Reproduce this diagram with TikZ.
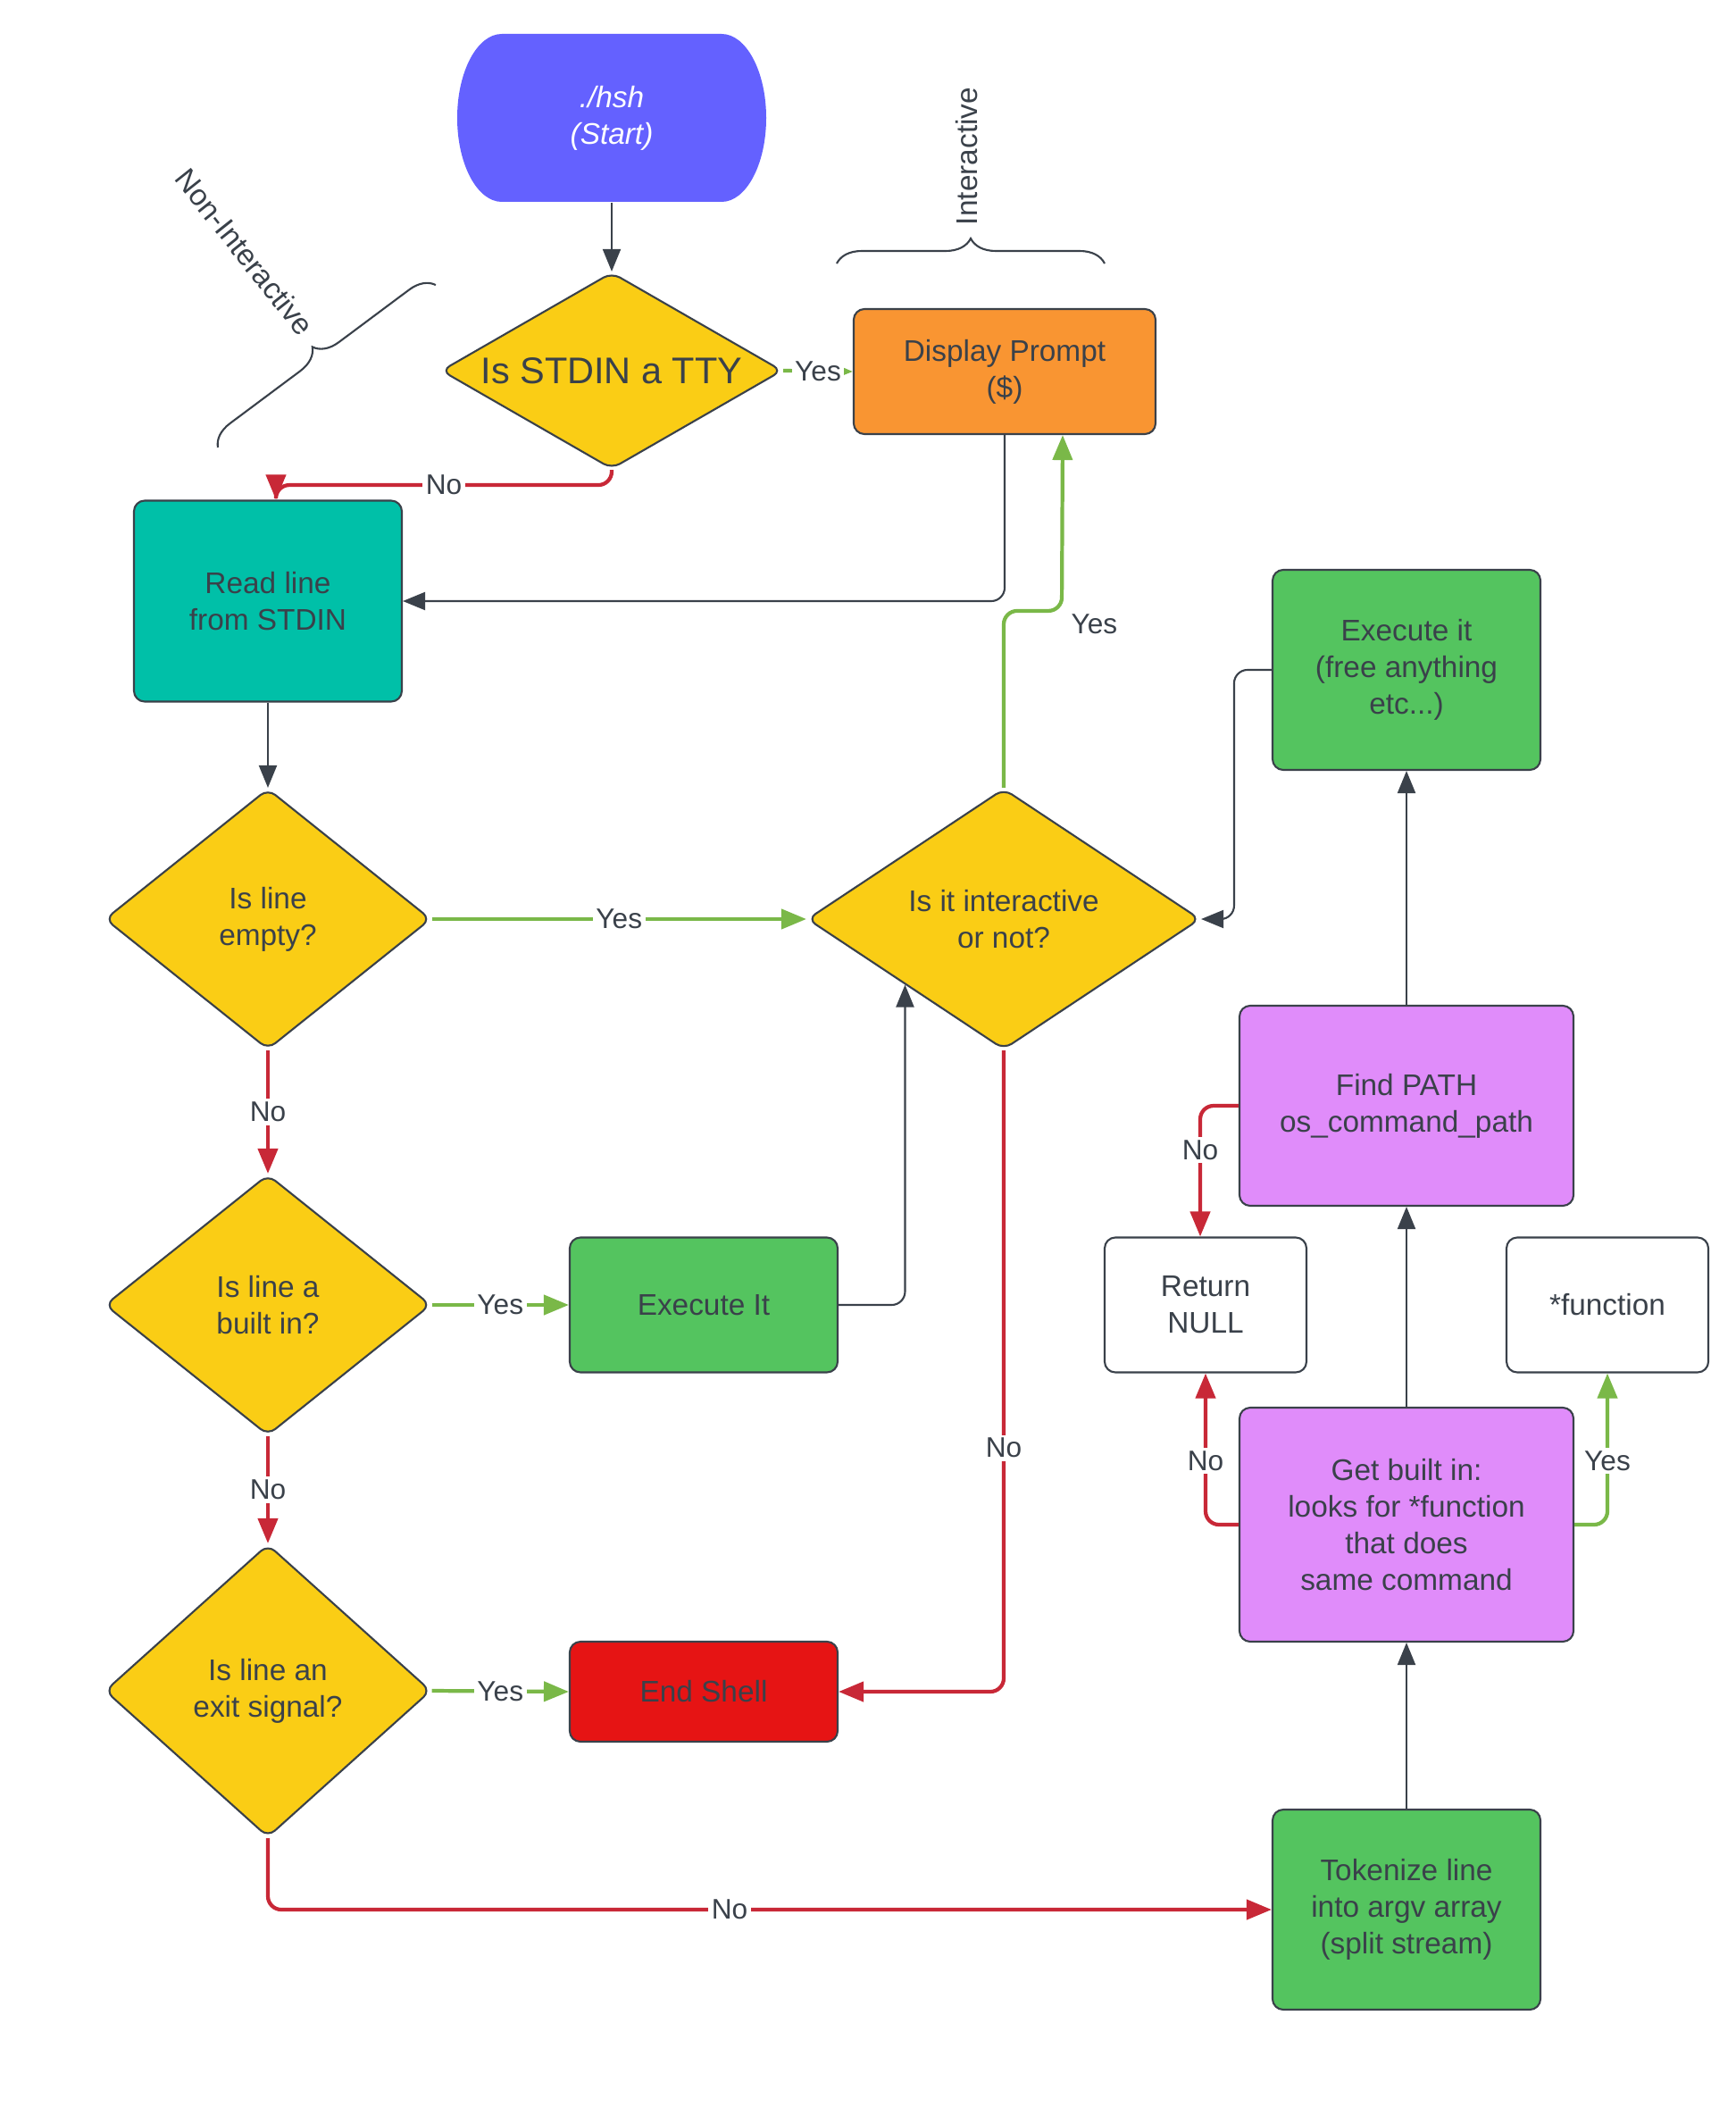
\documentclass[tikz,border=0pt]{standalone}
\usepackage{fontspec}
\setmainfont{Liberation Sans}
\usetikzlibrary{shapes.geometric,arrows.meta,decorations.pathreplacing}

\definecolor{txt}{HTML}{3A414A}
\definecolor{startblue}{HTML}{6461FF}
\definecolor{askyellow}{HTML}{FACD15}
\definecolor{promptorange}{HTML}{F99532}
\definecolor{readteal}{HTML}{00C0A8}
\definecolor{rungreen}{HTML}{54C45F}
\definecolor{lookpurple}{HTML}{E08CFA}
\definecolor{stopred}{HTML}{E61414}
\definecolor{nored}{HTML}{C82837}
\definecolor{yesgreen}{HTML}{7AB848}

\begin{document}
\begin{tikzpicture}[
	every node/.style={font=\fontsize{9.5}{11.6}\selectfont, text=txt, align=center},
	box/.style={draw=txt, line width=0.6pt, rounded corners=0.12cm, inner sep=2pt},
	ask/.style={diamond, aspect=1.25, draw=txt, line width=0.6pt, fill=askyellow, inner sep=0pt, rounded corners=3pt},
	flow/.style={draw=txt, line width=0.6pt, rounded corners=0.15cm, -{Triangle[length=0.25cm,width=0.2cm]}},
	yesline/.style={draw=yesgreen, line width=1.2pt, rounded corners=0.15cm, -{Triangle[length=0.28cm,width=0.22cm]}},
	noline/.style={draw=nored, line width=1.2pt, rounded corners=0.15cm, -{Triangle[length=0.28cm,width=0.22cm]}},
	lbl/.style={fill=white, inner sep=1pt, rounded corners=0pt, font=\fontsize{9}{11}\selectfont},
	brc/.style={draw=txt, line width=0.6pt, decorate, decoration={brace, amplitude=0.28cm}}
]
	\fill[white] (0,0) rectangle (19.43,-23.59);
	\useasboundingbox (0,0) rectangle (19.43,-23.59);

	% start
	\fill[startblue] (5.62,-0.38) -- (8.08,-0.38) arc[start angle=90, end angle=-90, x radius=0.5, y radius=0.94]
		-- (5.62,-2.26) arc[start angle=270, end angle=90, x radius=0.5, y radius=0.94] -- cycle;
	\node[minimum width=3.46cm, minimum height=1.88cm, text=white, font=\fontsize{9.5}{11.6}\selectfont\itshape] (start) at (6.85,-1.32) {./hsh\\(Start)};

	\node[ask, aspect=1.74, minimum width=3.82cm, minimum height=2.2cm, font=\fontsize{11.8}{14}\selectfont] (tty) at (6.85,-4.15) {Is STDIN a TTY};
	\node[box, fill=promptorange, minimum width=3.38cm, minimum height=1.4cm] (prompt) at (11.25,-4.16) {Display Prompt\\(\$)};
	\node[box, fill=readteal, minimum width=3cm, minimum height=2.25cm] (readline) at (3,-6.73) {Read line\\from STDIN};

	\node[ask, minimum width=3.65cm, minimum height=2.92cm] (empty) at (3,-10.29) {Is line\\empty?};
	\node[ask, minimum width=4.4cm, minimum height=2.92cm] (inter) at (11.24,-10.29) {Is it interactive\\or not?};
	\node[ask, minimum width=3.65cm, minimum height=2.92cm] (builtin) at (3,-14.61) {Is line a\\built in?};
	\node[ask, minimum width=3.65cm, minimum height=3.28cm] (exitsig) at (3,-18.93) {Is line an\\exit signal?};

	\node[box, fill=rungreen, minimum width=3cm, minimum height=1.51cm] (execit) at (7.88,-14.61) {Execute It};
	\node[box, fill=stopred, minimum width=3cm, minimum height=1.12cm] (endshell) at (7.88,-18.94) {End Shell};

	\node[box, fill=rungreen, minimum width=3cm, minimum height=2.24cm] (freeexec) at (15.75,-7.5) {Execute it\\(free anything\\etc...)};
	\node[box, fill=lookpurple, minimum width=3.74cm, minimum height=2.24cm] (findpath) at (15.75,-12.38) {Find PATH\\os\_command\_path};
	\node[box, fill=white, minimum width=2.26cm, minimum height=1.51cm] (retnull) at (13.5,-14.61) {Return\\NULL};
	\node[box, fill=white, minimum width=2.26cm, minimum height=1.51cm] (func) at (18,-14.61) {*function};
	\node[box, fill=lookpurple, minimum width=3.74cm, minimum height=2.62cm] (getbuiltin) at (15.75,-17.07) {Get built in:\\looks for *function\\that does\\same command};
	\node[box, fill=rungreen, minimum width=3cm, minimum height=2.24cm] (tokenize) at (15.75,-21.38) {Tokenize line\\into argv array\\(split stream)};

	% braces
	\draw[brc] (9.37,-2.95) -- (12.37,-2.95);
	\node[rotate=90] (interlbl) at (10.83,-1.75) {Interactive};
	\draw[brc, decoration={amplitude=0.27cm}] (2.44,-5.01) -- (4.88,-3.19);
	\node[rotate=-51.6] (nonlbl) at (2.74,-2.82) {Non-Interactive};

	% connectors
	\draw[flow] (start.south) -- (tty.north);
	\draw[yesline] (tty.east) -- node[lbl]{Yes} (prompt.west);
	\draw[noline] (tty.south) -- ++(0,-0.17) -| node[lbl,pos=0.25]{No} ([xshift=0.09cm]readline.north);
	\draw[flow] (prompt.south) |- (readline.east);
	\draw[flow] (readline.south) -- (empty.north);
	\draw[yesline] (empty.east) -- node[lbl]{Yes} (inter.west);
	\draw[yesline] (inter.north) -- ++(0,1.98) -- ++(0.65,0)
		node[lbl, fill=none, anchor=west, xshift=0.05cm, yshift=-0.15cm]{Yes} -- ([xshift=0.65cm]prompt.south);
	\draw[noline] (empty.south) -- node[lbl]{No} (builtin.north);
	\draw[yesline] (builtin.east) -- node[lbl]{Yes} (execit.west);
	\draw[flow] (execit.east) -| (inter.south west);
	\draw[noline] (builtin.south) -- node[lbl]{No} (exitsig.north);
	\draw[yesline] (exitsig.east) -- node[lbl]{Yes} (endshell.west);
	\draw[noline] (inter.south) |- node[lbl,pos=0.31]{No} (endshell.east);
	\draw[noline] (exitsig.south) |- node[lbl,pos=0.73]{No} (tokenize.west);
	\draw[flow] (tokenize.north) -- (getbuiltin.south);
	\draw[flow] (getbuiltin.north) -- (findpath.south);
	\draw[noline] (getbuiltin.west) -| node[lbl,pos=0.71]{No} (retnull.south);
	\draw[yesline] (getbuiltin.east) -| node[lbl,pos=0.71]{Yes} (func.south);
	\draw[noline] (findpath.west) -| node[lbl,pos=0.67]{No} ([xshift=-0.06cm]retnull.north);
	\draw[flow] (findpath.north) -- (freeexec.south);
	\draw[flow] (freeexec.west) -- ++(-0.42,0) |- (inter.east);
\end{tikzpicture}
\end{document}
